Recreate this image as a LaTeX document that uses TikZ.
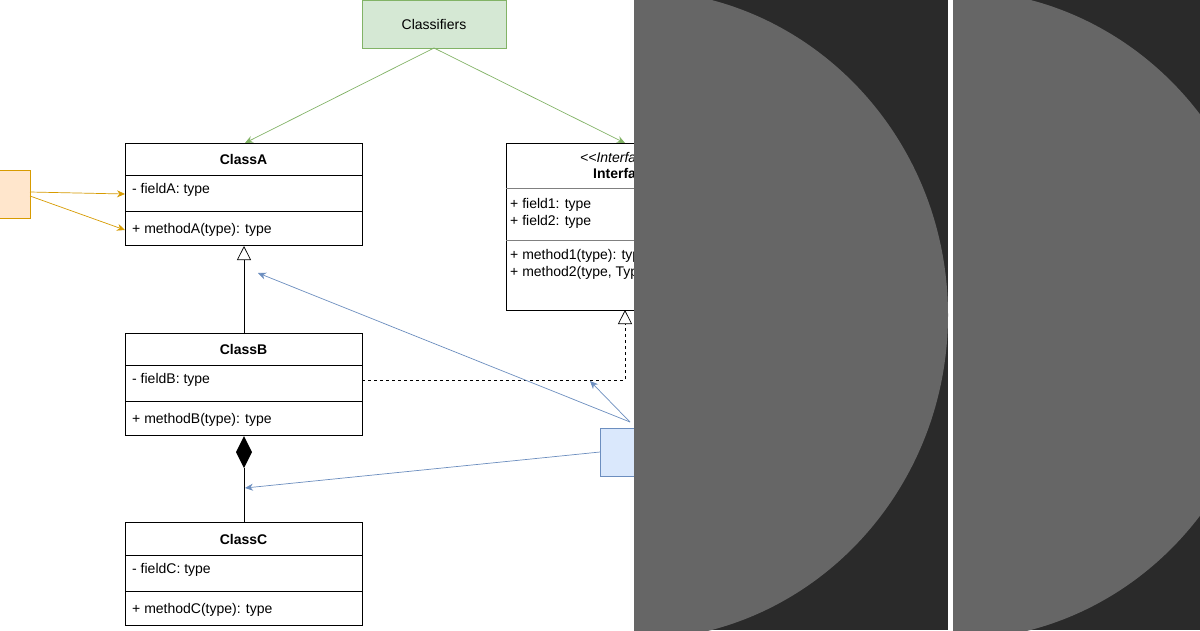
\documentclass[tikz,border=0pt]{standalone}
\usepackage{fontspec}
\setmainfont{Liberation Sans}
\usetikzlibrary{arrows.meta}
\definecolor{gfill}{HTML}{D5E8D4}\definecolor{gline}{HTML}{82B366}
\definecolor{ofill}{HTML}{FFE6CC}\definecolor{oline}{HTML}{D79B00}
\definecolor{bfill}{HTML}{DAE8FC}\definecolor{bline}{HTML}{6C8EBF}
\definecolor{dark}{HTML}{2A2A2A}\definecolor{semi}{HTML}{666666}
\begin{document}
\begin{tikzpicture}[x=1pt,y=-1pt,font=\fontsize{14}{16}\selectfont,
  cls/.style={draw,line width=0.8pt,fill=white},
  sep/.style={line width=0.6pt},
  txt/.style={anchor=west,inner sep=0pt},
  hdr/.style={font=\fontsize{14}{16}\selectfont\bfseries},
  garrow/.style={draw=gline,line width=0.7pt,-{Stealth[length=8pt,width=7pt]}},
  oarrow/.style={draw=oline,line width=0.7pt,-{Stealth[length=8pt,width=7pt]}},
  barrow/.style={draw=bline,line width=0.7pt,-{Stealth[length=8pt,width=7pt]}},
  inh/.style={line width=0.7pt,-{Triangle[open,length=14pt,width=14pt]}}]
\useasboundingbox (0,0) rectangle (1200,630);
\fill[white] (0,0) rectangle (1200,630);
% Classifiers
\node[draw=gline,fill=gfill,minimum width=144pt,minimum height=48pt,inner sep=0pt] (cl) at (434,24) {Classifiers};
% orange box
\node[draw=oline,fill=ofill,minimum width=40pt,minimum height=48pt,inner sep=0pt] (ob) at (10,194) {};
% ClassA
\node[cls,minimum width=237pt,minimum height=102pt,inner sep=0pt] (ca) at (243.5,194) {};
\draw[sep] (125,175)--(362,175) (125,211)--(362,211);
\node[hdr] (caT) at (243.5,159) {ClassA};
\node[txt] (caF) at (132,190) {- fieldA: type};
\node[txt] (caM) at (132,230) {+ methodA(type): type};
% ClassB
\node[cls,minimum width=237pt,minimum height=102pt,inner sep=0pt] (cb) at (243.5,384) {};
\draw[sep] (125,365)--(362,365) (125,401)--(362,401);
\node[hdr] (cbT) at (243.5,349) {ClassB};
\node[txt] (cbF) at (132,380) {- fieldB: type};
\node[txt] (cbM) at (132,420) {+ methodB(type): type};
% ClassC
\node[cls,minimum width=237pt,minimum height=103pt,inner sep=0pt] (cc) at (243.5,574) {};
\draw[sep] (125,555)--(362,555) (125,591)--(362,591);
\node[hdr] (ccT) at (243.5,539) {ClassC};
\node[txt] (ccF) at (132,570) {- fieldC: type};
\node[txt] (ccM) at (132,610) {+ methodC(type): type};
% Interface
\node[cls,minimum width=232pt,minimum height=167pt,inner sep=0pt] (if) at (622,226.5) {};
\draw[sep,draw=black!50] (506,188)--(738,188) (506,240)--(738,240);
\node[anchor=west,inner sep=0pt,font=\fontsize{14}{16}\selectfont\itshape] (ifS) at (580,157) {<{}<Interface>{}>};
\node[anchor=west,inner sep=0pt,hdr] (ifT) at (593,173) {Interface};
\node[txt] (if1) at (510,205) {+ field1: type};
\node[txt] (if2) at (510,222) {+ field2: type};
\node[txt] (if3) at (510,256) {+ method1(type): type};
\node[txt] (if4) at (510,273) {+ method2(type, Type): type};
% blue box
\node[draw=bline,fill=bfill,minimum width=60pt,minimum height=48pt,inner sep=0pt] (bb) at (630,452) {};
% connectors
\coordinate (cltop) at (434,48);
\draw[garrow] (cltop) -- (245,143);
\draw[garrow] (cltop) -- (625,143);
\draw[oarrow] (30,192) -- (125,194);
\draw[oarrow] (30,196) -- (125,230);
\draw[inh] (244,334) -- (244,246);
\draw[inh,dashed] (362,380) -- (625,380) -- (625,310);
\draw[line width=0.7pt] (244,522) -- (244,468);
\fill (244,436) -- (252,452) -- (244,468) -- (236,452) -- cycle;
\draw[barrow] (630,422) -- (258,273);
\draw[barrow] (630,422) -- (590,381);
\draw[barrow] (600,452) -- (245,488);
% dark panels
\fill[dark] (634,0) rectangle (948,630);
\fill[dark] (953,0) rectangle (1200,630);
\begin{scope}
\clip (634,0) rectangle (948,630);
\fill[semi] (634,315) ellipse [x radius=314,y radius=325];
\end{scope}
\begin{scope}
\clip (953,0) rectangle (1200,630);
\fill[semi] (953,315) ellipse [x radius=314,y radius=325];
\end{scope}
\end{tikzpicture}
\end{document}
